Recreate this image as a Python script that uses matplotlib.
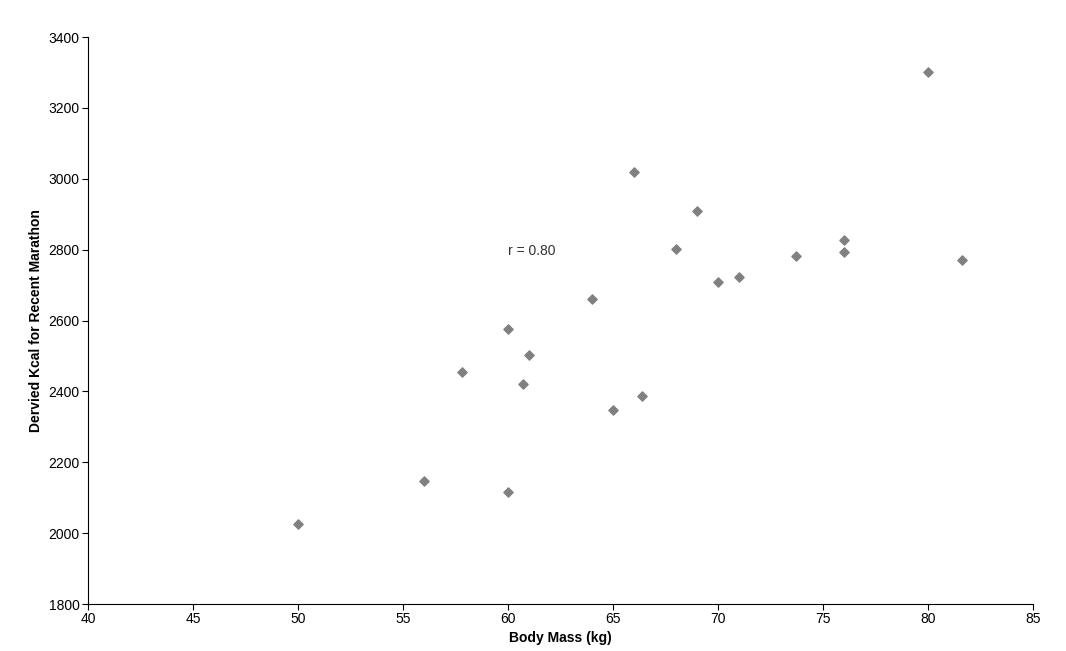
import matplotlib.pyplot as plt

# body mass (kg) vs derived kcal
mass = [50, 56, 57.8, 60, 60, 60.7, 61, 64, 65, 66, 66.4, 68, 69, 70, 71, 73.7, 76, 76, 80, 81.6]
kcal = [2025, 2148, 2455, 2575, 2115, 2420, 2503, 2660, 2348, 3018, 2388, 2803, 2908, 2708, 2722, 2782, 2828, 2795, 3302, 2772]

plt.rcParams['font.family'] = ['Liberation Sans', 'DejaVu Sans']
fig = plt.figure(figsize=(10.66, 6.51), dpi=100)
ax = fig.add_axes([0.0826, 0.072, 0.8864, 0.871])

ax.scatter(mass, kcal, marker='D', s=22, color='#808080', zorder=3)
ax.text(60, 2785, 'r = 0.80', fontsize=10, color='#333333')

ax.set_xlim(40, 85)
ax.set_ylim(1800, 3400)
ax.set_xticks(range(40, 86, 5))
ax.set_yticks(range(1800, 3401, 200))
ax.tick_params(labelsize=10, direction='out', length=4, pad=2)
ax.spines['top'].set_visible(False)
ax.spines['right'].set_visible(False)
ax.set_xlabel('Body Mass (kg)', fontsize=10, fontweight='bold', labelpad=3)
ax.set_ylabel('Dervied Kcal for Recent Marathon', fontsize=10, fontweight='bold')

fig.savefig('out.png', dpi=100)
